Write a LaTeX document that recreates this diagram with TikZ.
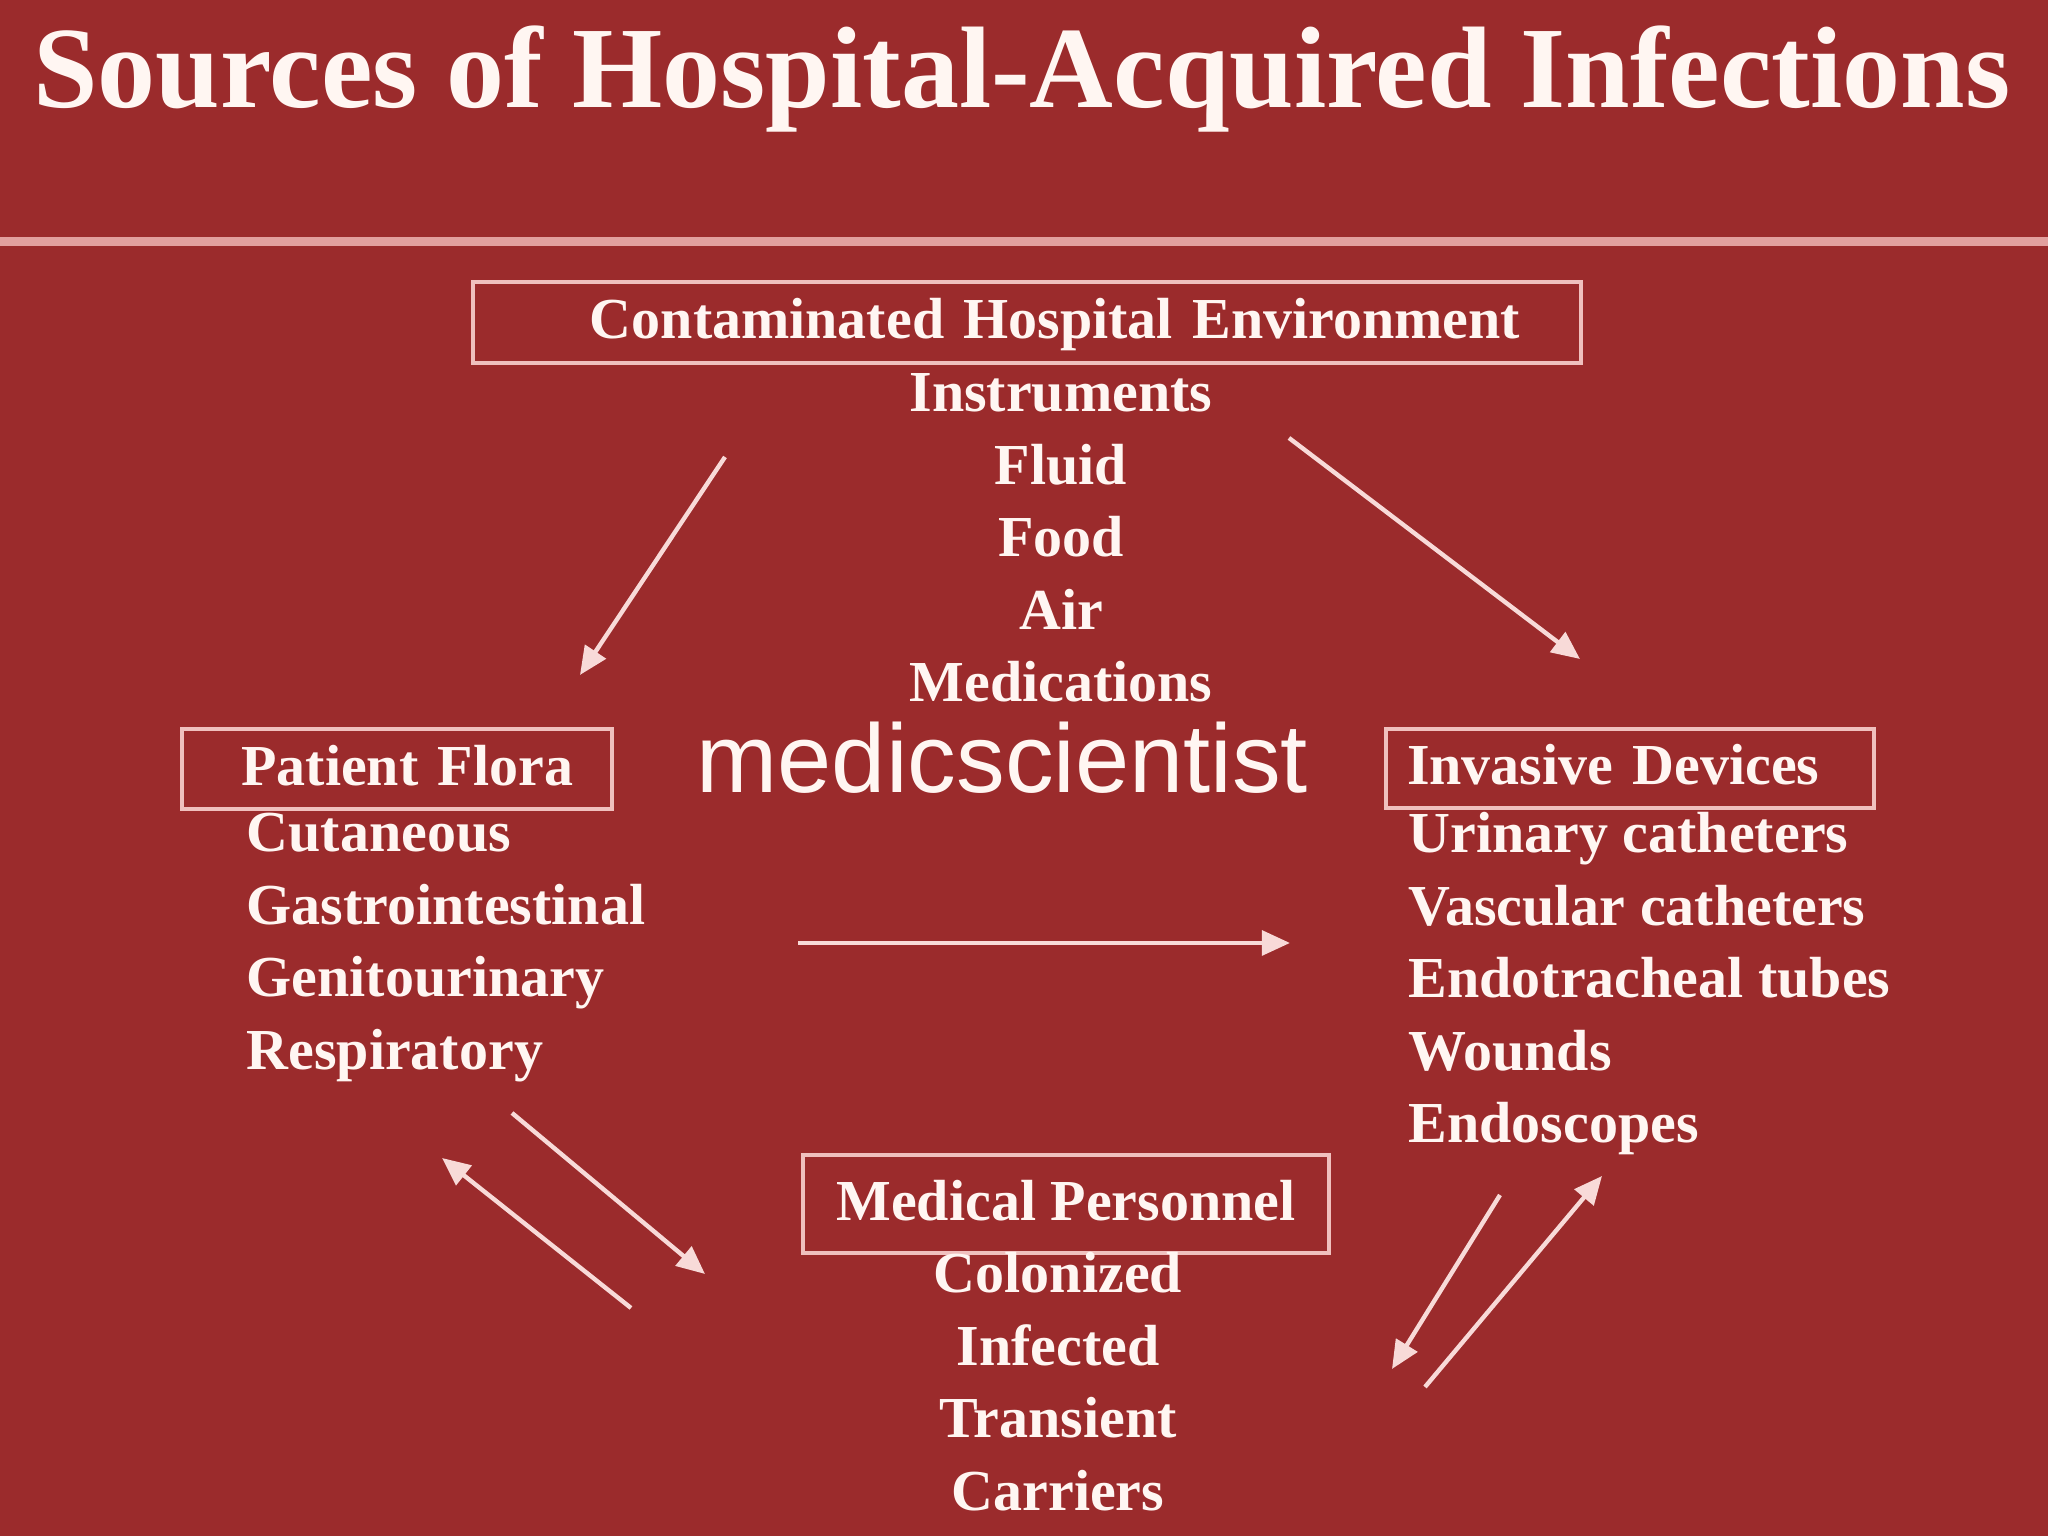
\documentclass[tikz,border=0pt]{standalone}
\usepackage{fontspec}
\setmainfont{Liberation Serif}
\newfontfamily\wmfont{Liberation Sans}
\usetikzlibrary{positioning,arrows.meta}

\definecolor{bg}{RGB}{155,43,44}
\definecolor{rim}{RGB}{240,192,190}
\definecolor{ink}{RGB}{255,246,242}
\definecolor{tipc}{RGB}{248,218,216}
\definecolor{rulec}{RGB}{226,160,158}

\tikzstyle{every node}+=[text=ink,inner sep=0pt,font=\fontsize{16.5}{19}\selectfont\bfseries]
\tikzstyle{hdr}=[draw=rim,line width=1.1pt,text depth=0.22em]
\tikzstyle{flow}=[tipc,line width=1.25pt,-{Triangle[length=8pt,width=7pt]}]

\begin{document}
\begin{tikzpicture}[node distance=0.725cm]
\useasboundingbox (0,0) rectangle (20.48,15.36);
\fill[bg] (0,0) rectangle (20.48,15.36);

\node[font=\fontsize{33}{38}\selectfont\bfseries,anchor=base] (title) at (10.22,14.28) {Sources of Hospital-Acquired Infections};
\draw[rulec,line width=0.09cm] (0,12.94) -- (20.48,12.94);

% environment
\node[hdr,text width=9.86cm,align=right,inner xsep=0.61cm,minimum height=0.81cm] (env) at (10.27,12.135) {Contaminated Hospital Environment};
\node[anchor=base] (instr) at (10.61,11.24) {Instruments};
\node[below=of instr.base,anchor=base] (fluid) {Fluid};
\node[below=of fluid.base,anchor=base] (food) {Food};
\node[below=of food.base,anchor=base] (air) {Air};
\node[below=of air.base,anchor=base] (meds) {Medications};

\node[font=\wmfont\fontsize{27.7}{32}\selectfont,anchor=base west] (wm) at (6.96,7.43) {medicscientist};

% patient flora
\node[hdr,text width=3.52cm,align=right,inner xsep=0.39cm,minimum height=0.80cm] (flora) at (3.97,7.67) {Patient Flora};
\node[anchor=base west] (cutan) at (2.46,6.84) {Cutaneous};
\node[below=of cutan.base west,anchor=base west] (gastro) {Gastrointestinal};
\node[below=of gastro.base west,anchor=base west] (genito) {Genitourinary};
\node[below=of genito.base west,anchor=base west] (resp) {Respiratory};

% invasive devices
\node[hdr,text width=4.46cm,align=left,inner xsep=0.21cm,minimum height=0.79cm] (dev) at (16.30,7.675) {Invasive Devices};
\node[anchor=base west] (urin) at (14.08,6.83) {Urinary catheters};
\node[below=of urin.base west,anchor=base west] (vasc) {Vascular catheters};
\node[below=of vasc.base west,anchor=base west] (endot) {Endotracheal tubes};
\node[below=of endot.base west,anchor=base west] (wound) {Wounds};
\node[below=of wound.base west,anchor=base west] (endos) {Endoscopes};

% medical personnel
\node[hdr,minimum width=5.26cm,minimum height=0.98cm] (pers) at (10.66,3.32) {Medical Personnel};
\node[anchor=base] (colon) at (10.58,2.43) {Colonized};
\node[below=of colon.base,anchor=base] (infect) {Infected};
\node[below=of infect.base,anchor=base] (trans) {Transient};
\node[below=of trans.base,anchor=base] (carr) {Carriers};

% arrow ends
\coordinate (envL) at (7.25,10.79);
\coordinate (floraT) at (5.80,8.61);
\coordinate (envR) at (12.89,10.98);
\coordinate (devT) at (15.80,8.77);
\coordinate (floraR) at (7.98,5.93);
\coordinate (devL) at (12.90,5.93);
\coordinate (floraB) at (5.12,4.23);
\coordinate (persL) at (7.05,2.62);
\coordinate (persLB) at (6.31,2.28);
\coordinate (floraBL) at (4.42,3.78);
\coordinate (devB) at (15.00,3.41);
\coordinate (persR) at (13.92,1.67);
\coordinate (persRB) at (14.25,1.49);
\coordinate (devBR) at (16.02,3.60);

\draw[flow] (envL) -- (floraT);
\draw[flow] (envR) -- (devT);
\draw[flow] (floraR) -- (devL);
\draw[flow] (floraB) -- (persL);
\draw[flow] (persLB) -- (floraBL);
\draw[flow] (devB) -- (persR);
\draw[flow] (persRB) -- (devBR);
\end{tikzpicture}
\end{document}
